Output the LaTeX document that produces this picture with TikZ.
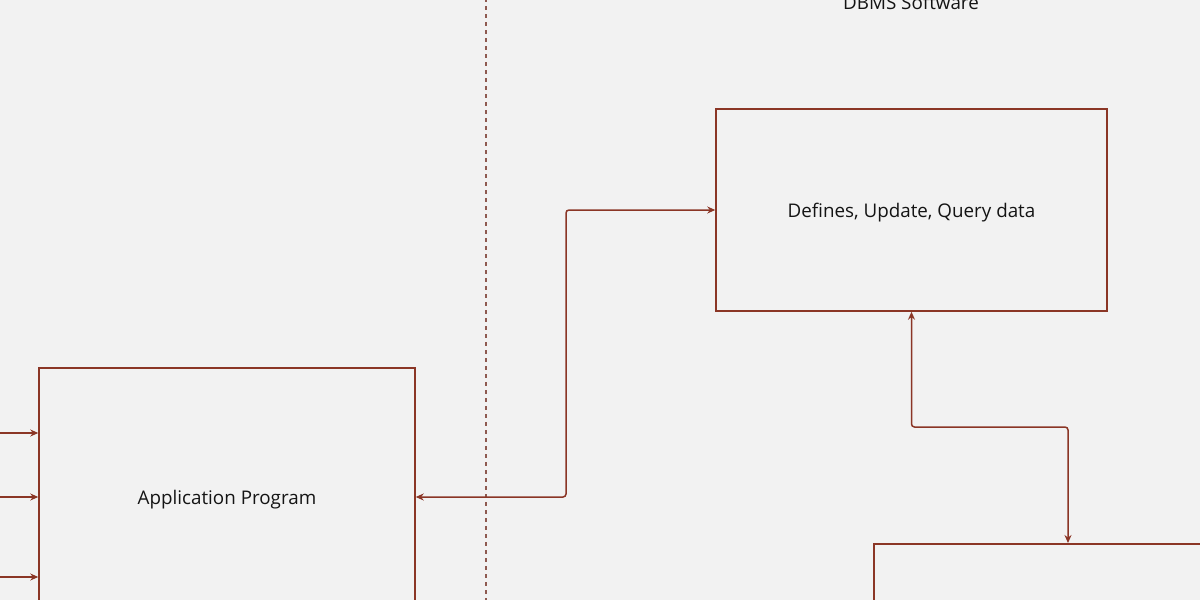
\documentclass[tikz,border=0pt]{standalone}
\usepackage{fontspec}
\setmainfont{Open Sans}
\usetikzlibrary{arrows.meta}
\definecolor{bg}{HTML}{F2F2F2}
\definecolor{ln}{HTML}{8B3626}
\definecolor{dl}{HTML}{8E5A50}
\begin{document}
\begin{tikzpicture}[x=1pt,y=-1pt,
  txt/.style={font=\fontsize{18.8}{22}\selectfont,text=black!92},
  box/.style={txt,draw=ln,line width=1.5pt,rectangle,inner sep=0pt,text depth=0pt},
  tip/.style={Stealth[length=8pt,width=7pt]},
  conn/.style={draw=ln,line width=1.5pt,rounded corners=3pt,-{Stealth[length=8pt,width=7pt]}},
  both/.style={draw=ln,line width=1.5pt,rounded corners=3pt,{Stealth[length=8pt,width=7pt]}-{Stealth[length=8pt,width=7pt]}}]
\fill[bg] (0,0) rectangle (1200,600);
\useasboundingbox (0,0) rectangle (1200,600);
\clip (0,0) rectangle (1200,600);
\draw[dl,line width=1.3pt,dash pattern=on 4pt off 4pt] (486,-2) -- (486,602);
\node[txt] (title) at (911,2) {DBMS Software};
\node[box,minimum width=391pt,minimum height=202pt] (def) at (911.5,210) {Defines, Update, Query data};
\node[box,minimum width=376pt,minimum height=258pt] (app) at (227,497) {Application Program};
\node[box,minimum width=390pt,minimum height=200pt,anchor=north west] (db) at (873,543) {};
\coordinate (l1) at (-10,433);
\coordinate (l2) at (-10,497);
\coordinate (l3) at (-10,577);
\draw[conn] (l1) -- (l1 -| app.west);
\draw[conn] (l2) -- (l2 -| app.west);
\draw[conn] (l3) -- (l3 -| app.west);
\coordinate (m1) at (566,497);
\draw[both] (app.east |- m1) -- (m1) |- (def.west);
\coordinate (m3) at (1068,427);
\draw[both] (def.south) |- (m3) -- (m3 |- db.north);
\end{tikzpicture}
\end{document}
